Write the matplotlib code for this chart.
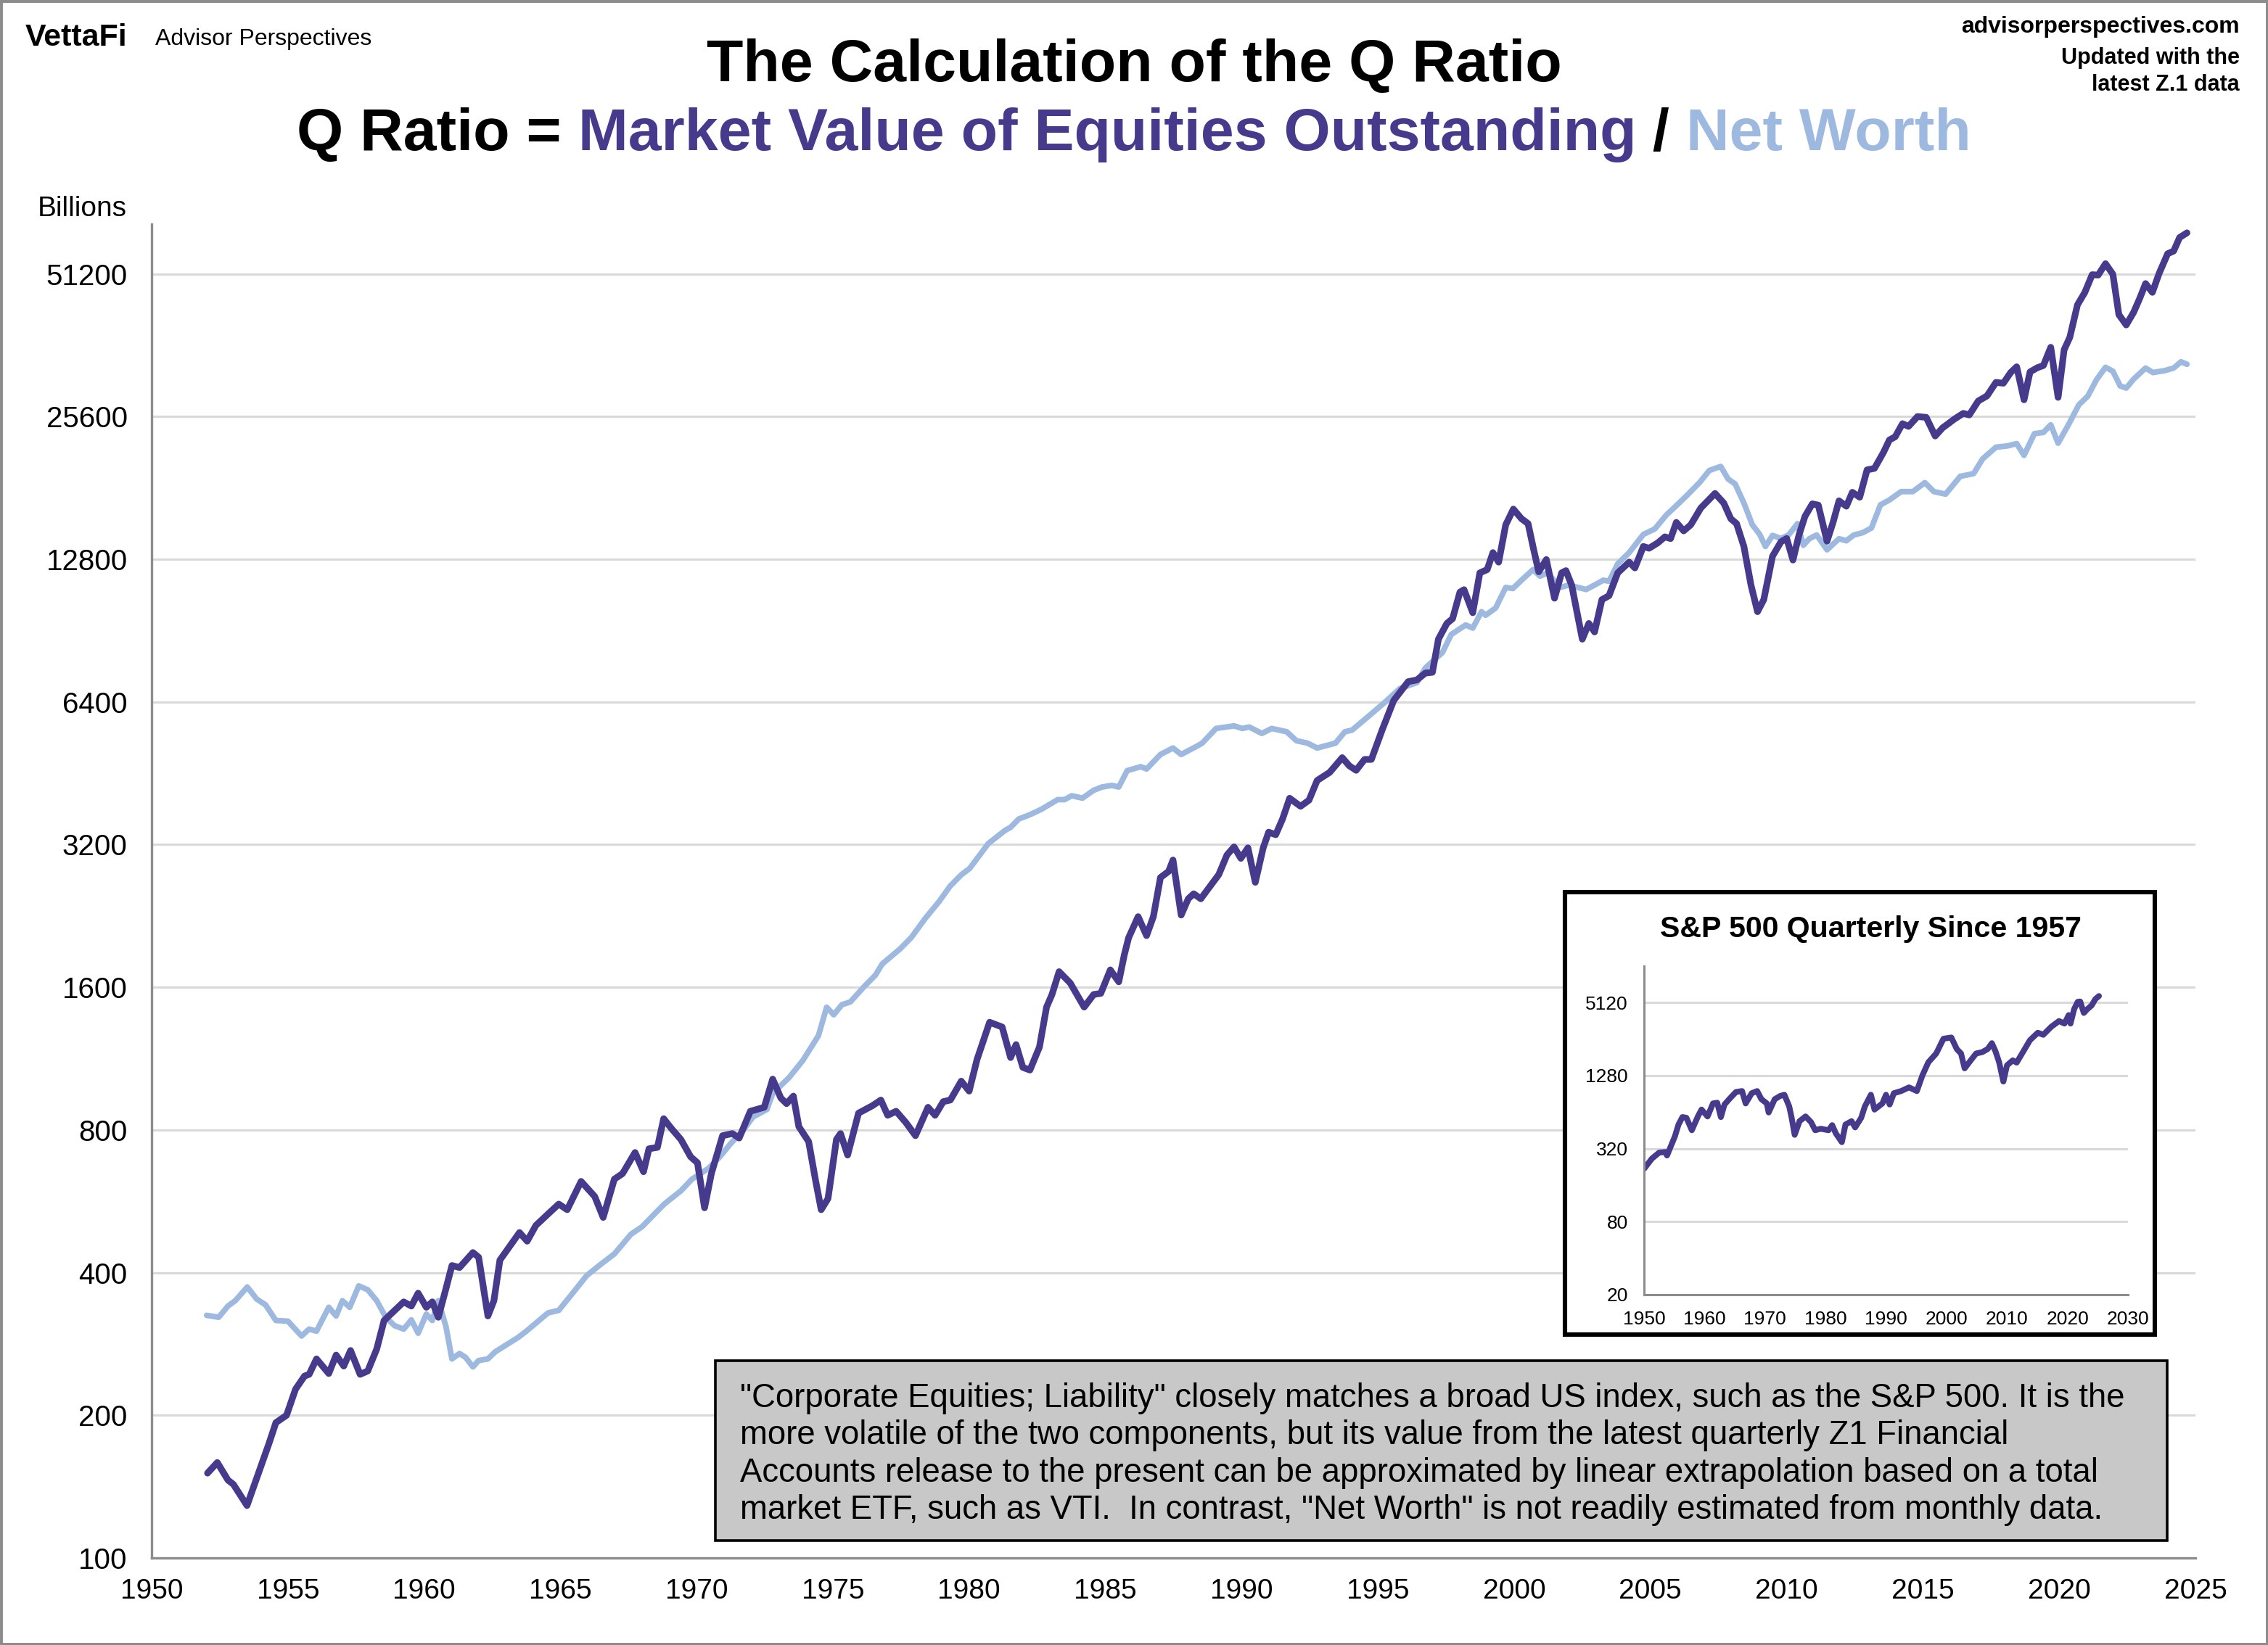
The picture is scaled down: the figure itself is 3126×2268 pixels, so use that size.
import numpy as np
import matplotlib
matplotlib.use("Agg")
import matplotlib.pyplot as plt
from matplotlib.patches import Rectangle
from matplotlib.ticker import NullLocator, FixedLocator

plt.rcParams['font.family'] = ['Liberation Sans', 'DejaVu Sans']

DARK = '#463a8c'
LIGHT = '#9db9e0'
GRID = '#d9d9d9'
SPINE = '#8c8c8c'

# Market value of equities outstanding (billions)
mv_years = [1952.05, 1952.41, 1952.8, 1953.0, 1953.5, 1953.85, 1954.3, 1954.56, 1954.95, 1955.28,
            1955.61, 1955.78, 1956.05, 1956.5, 1956.77, 1957.05, 1957.3, 1957.65, 1957.93, 1958.26,
            1958.53, 1958.92, 1959.25, 1959.53, 1959.78, 1960.08, 1960.3, 1960.52, 1960.8, 1961.02,
            1961.3, 1961.79, 1962.0, 1962.34, 1962.56, 1962.78, 1963.5, 1963.78, 1964.1, 1964.55,
            1964.94, 1965.25, 1965.76, 1966.26, 1966.57, 1966.98, 1967.28, 1967.74, 1968.05, 1968.25,
            1968.56, 1968.79, 1969.07, 1969.42, 1969.78, 1970.03, 1970.29, 1970.54, 1970.95, 1971.31,
            1971.56, 1971.97, 1972.48, 1972.79, 1973.09, 1973.3, 1973.55, 1973.75, 1974.11, 1974.37,
            1974.57, 1974.82, 1975.13, 1975.28, 1975.54, 1975.94, 1976.45, 1976.76, 1977.01, 1977.32,
            1977.68, 1978.03, 1978.49, 1978.75, 1979.05, 1979.31, 1979.71, 1980.0, 1980.29, 1980.75,
            1981.21, 1981.52, 1981.72, 1981.97, 1982.23, 1982.58, 1982.84, 1983.04, 1983.3, 1983.71,
            1984.22, 1984.57, 1984.83, 1985.18, 1985.49, 1985.69, 1985.85, 1986.2, 1986.51, 1986.76,
            1987.02, 1987.32, 1987.48, 1987.78, 1988.04, 1988.24, 1988.5, 1988.85, 1989.16, 1989.46,
            1989.72, 1989.97, 1990.23, 1990.5, 1990.79, 1990.99, 1991.25, 1991.5, 1991.76, 1992.16,
            1992.47, 1992.77, 1993.23, 1993.69, 1993.95, 1994.2, 1994.51, 1994.76, 1995.16, 1995.58,
            1996.11, 1996.43, 1996.74, 1997.0, 1997.22, 1997.53, 1997.74, 1998.01, 1998.16, 1998.48,
            1998.74, 1999.01, 1999.22, 1999.43, 1999.69, 1999.97, 2000.27, 2000.51, 2000.69, 2000.9,
            2001.18, 2001.48, 2001.74, 2001.9, 2002.11, 2002.5, 2002.74, 2002.95, 2003.22, 2003.48,
            2003.8, 2004.22, 2004.43, 2004.74, 2004.95, 2005.27, 2005.53, 2005.74, 2005.95, 2006.22,
            2006.48, 2006.85, 2007.37, 2007.69, 2007.95, 2008.16, 2008.43, 2008.69, 2008.93, 2009.16,
            2009.48, 2009.79, 2010.0, 2010.23, 2010.45, 2010.67, 2010.94, 2011.16, 2011.48, 2011.7,
            2011.92, 2012.19, 2012.41, 2012.68, 2012.95, 2013.22, 2013.55, 2013.77, 2013.98, 2014.25,
            2014.47, 2014.8, 2015.12, 2015.45, 2015.72, 2016.16, 2016.48, 2016.7, 2017.03, 2017.35,
            2017.68, 2017.95, 2018.22, 2018.44, 2018.71, 2018.93, 2019.2, 2019.42, 2019.69, 2019.96,
            2020.18, 2020.39, 2020.67, 2020.94, 2021.21, 2021.43, 2021.7, 2021.97, 2022.19, 2022.46,
            2022.73, 2022.95, 2023.17, 2023.42, 2023.66, 2023.98, 2024.2, 2024.42, 2024.69]
mv_values = [151, 159, 146, 143, 129, 147, 174, 193, 200, 227,
             242, 244, 263, 245, 268, 254, 274, 244, 248, 276,
             317, 333, 347, 340, 362, 338, 347, 322, 370, 414,
             410, 441, 431, 324, 349, 425, 486, 466, 503, 532,
             558, 543, 623, 579, 523, 630, 647, 717, 653, 730,
             735, 845, 806, 764, 702, 682, 548, 647, 778, 786,
             769, 876, 893, 1024, 934, 909, 943, 813, 756, 623,
             543, 573, 764, 786, 708, 868, 900, 925, 859, 876,
             829, 778, 893, 859, 918, 925, 1014, 966, 1127, 1350,
             1319, 1137, 1211, 1084, 1070, 1197, 1453, 1545, 1726, 1633,
             1453, 1545, 1553, 1741, 1643, 1869, 2034, 2255, 2056, 2255,
             2727, 2809, 2969, 2272, 2459, 2520, 2459, 2618, 2766, 3042,
             3165, 2993, 3150, 2664, 3150, 3399, 3357, 3624, 4008, 3854,
             3970, 4370, 4545, 4882, 4692, 4590, 4840, 4840, 5594, 6445,
             7062, 7120, 7362, 7390, 8680, 9370, 9590, 10910, 11040, 9870,
             11980, 12170, 13220, 12620, 15130, 16330, 15580, 15220, 13620, 12040,
             12780, 10590, 11980, 12110, 11290, 8680, 9370, 8990, 10520, 10720,
             11980, 12620, 12270, 13620, 13500, 13860, 14270, 14150, 15310, 14690,
             15130, 16420, 17620, 16820, 15580, 15220, 13620, 11290, 9920, 10520,
             12990, 13930, 14160, 12750, 14390, 15760, 16750, 16650, 13970, 15300,
             17000, 16560, 17720, 17300, 19760, 19900, 21500, 22850, 23200, 24730,
             24400, 25600, 25500, 23290, 24230, 25300, 26000, 25800, 27610, 28300,
             30220, 30100, 31710, 32600, 27770, 31800, 32460, 32800, 35840, 28100,
             35400, 37620, 44040, 46780, 51000, 50900, 53800, 51100, 42000, 39950,
             42460, 45380, 48850, 46800, 51200, 56470, 57200, 61100, 62500]

# Net worth (billions)
nw_years = [1952.02, 1952.46, 1952.8, 1953.07, 1953.51, 1953.85, 1954.18, 1954.56, 1955.0, 1955.5,
            1955.78, 1956.05, 1956.5, 1956.77, 1957.0, 1957.27, 1957.6, 1957.93, 1958.26, 1958.59,
            1958.92, 1959.25, 1959.53, 1959.78, 1960.08, 1960.3, 1960.52, 1960.8, 1961.02, 1961.3,
            1961.52, 1961.79, 1962.0, 1962.34, 1962.6, 1963.45, 1963.72, 1964.55, 1964.94, 1965.45,
            1965.96, 1966.47, 1966.98, 1967.59, 1968.0, 1968.4, 1968.81, 1969.42, 1969.83, 1970.44,
            1970.85, 1971.26, 1971.66, 1972.07, 1972.58, 1972.79, 1973.4, 1973.9, 1974.47, 1974.77,
            1975.03, 1975.33, 1975.64, 1976.15, 1976.56, 1976.81, 1977.47, 1977.88, 1978.39, 1978.9,
            1979.3, 1979.71, 1980.02, 1980.7, 1981.31, 1981.52, 1981.82, 1982.23, 1982.64, 1983.25,
            1983.5, 1983.76, 1984.16, 1984.57, 1984.88, 1985.23, 1985.49, 1985.8, 1986.3, 1986.51,
            1987.02, 1987.48, 1987.78, 1988.34, 1988.55, 1989.06, 1989.72, 1990.02, 1990.28, 1990.74,
            1991.1, 1991.65, 1992.01, 1992.42, 1992.77, 1993.44, 1993.79, 1994.05, 1994.76, 1995.27,
            1995.8, 1996.43, 1996.74, 1997.37, 1997.69, 1998.22, 1998.48, 1998.8, 1998.95, 1999.32,
            1999.69, 1999.95, 2000.27, 2000.69, 2000.95, 2001.22, 2001.69, 2002.0, 2002.64, 2002.95,
            2003.27, 2003.48, 2003.8, 2004.22, 2004.74, 2005.16, 2005.58, 2005.9, 2006.32, 2006.8,
            2007.16, 2007.58, 2007.85, 2008.11, 2008.43, 2008.74, 2009.01, 2009.22, 2009.48, 2009.79,
            2010.07, 2010.4, 2010.61, 2010.83, 2011.1, 2011.48, 2011.92, 2012.19, 2012.46, 2012.79,
            2013.11, 2013.44, 2013.77, 2014.2, 2014.63, 2015.07, 2015.4, 2015.83, 2016.37, 2016.86,
            2017.19, 2017.68, 2018.11, 2018.44, 2018.71, 2019.09, 2019.42, 2019.69, 2019.96, 2020.34,
            2020.72, 2021.05, 2021.37, 2021.7, 2021.97, 2022.24, 2022.46, 2022.73, 2023.17, 2023.44,
            2023.87, 2024.2, 2024.47, 2024.69]
nw_values = [325, 322, 340, 349, 373, 352, 342, 317, 316, 294,
             304, 301, 338, 324, 349, 338, 375, 368, 349, 322,
             309, 304, 318, 298, 327, 317, 349, 308, 263, 270,
             265, 253, 261, 263, 272, 292, 300, 329, 333, 362,
             394, 416, 438, 482, 500, 528, 558, 595, 630, 664,
             702, 750, 792, 852, 884, 955, 1033, 1122, 1265, 1452,
             1400, 1470, 1490, 1606, 1697, 1792, 1929, 2039, 2236, 2428,
             2615, 2763, 2850, 3215, 3426, 3480, 3624, 3700, 3796, 3981,
             3981, 4057, 4010, 4167, 4233, 4266, 4233, 4584, 4672, 4620,
             4958, 5116, 4958, 5155, 5237, 5625, 5697, 5625, 5665, 5491,
             5625, 5537, 5300, 5237, 5116, 5237, 5537, 5580, 6040, 6400,
             6825, 7030, 7545, 8140, 8880, 9300, 9160, 9920, 9750, 10100,
             11160, 11100, 11560, 12170, 11790, 11980, 11160, 11290, 11050, 11290,
             11560, 11500, 12520, 13220, 14440, 14830, 15860, 16500, 17410, 18570,
             19700, 20090, 18900, 18450, 16820, 15130, 14440, 13620, 14370, 14160,
             14400, 15220, 13700, 14140, 14400, 13400, 14140, 14000, 14400, 14560,
             14900, 16670, 17070, 17780, 17780, 18570, 17780, 17560, 19150, 19400,
             20840, 22060, 22200, 22450, 21200, 23560, 23700, 24600, 22500, 24600,
             27100, 28270, 30620, 32520, 31900, 29700, 29400, 30700, 32400, 31700,
             32000, 32400, 33400, 33000]

# S&P 500 inset (as positioned on the inset's x axis)
sp_years = [1950.0, 1951.3, 1952.5, 1953.5, 1953.8, 1955.1, 1955.7, 1956.35, 1957.0, 1957.9,
            1958.9, 1959.5, 1960.5, 1961.4, 1962.1, 1962.7, 1963.3, 1964.3, 1965.2, 1966.2,
            1966.8, 1967.8, 1968.7, 1969.4, 1970.3, 1970.6, 1971.6, 1972.5, 1973.2, 1974.0,
            1974.4, 1974.9, 1975.7, 1976.7, 1977.6, 1978.3, 1979.2, 1980.5, 1981.1, 1981.7,
            1982.7, 1983.3, 1984.3, 1984.9, 1985.9, 1986.5, 1987.5, 1988.1, 1989.4, 1990.0,
            1990.6, 1991.3, 1992.5, 1993.8, 1995.1, 1996.0, 1997.0, 1998.3, 1999.5, 2000.8,
            2001.7, 2002.4, 2003.0, 2004.0, 2004.9, 2005.9, 2006.8, 2007.5, 2008.1, 2008.7,
            2009.4, 2010.0, 2010.95, 2011.6, 2012.5, 2013.8, 2015.1, 2016.0, 2017.3, 2018.6,
            2019.5, 2020.2, 2020.5, 2021.1, 2021.7, 2022.1, 2022.7, 2023.3, 2024.0, 2024.6,
            2025.2]
sp_values = [218, 265, 297, 300, 281, 404, 506, 583, 575, 454,
             590, 672, 590, 755, 765, 583, 740, 842, 938, 955,
             755, 917, 955, 818, 755, 636, 818, 870, 890, 713,
             575, 416, 539, 590, 530, 454, 467, 454, 500, 428,
             362, 506, 539, 479, 575, 713, 890, 672, 755, 890,
             740, 917, 955, 1024, 955, 1280, 1650, 1950, 2580, 2640,
             2120, 1950, 1470, 1710, 1950, 2000, 2120, 2370, 2030, 1650,
             1144, 1557, 1710, 1640, 1950, 2510, 2890, 2780, 3230, 3610,
             3440, 4040, 3440, 4530, 5200, 5230, 4210, 4530, 4860, 5470,
             5800]

main_yticks = [100, 200, 400, 800, 1600, 3200, 6400, 12800, 25600, 51200]
main_xticks = list(range(1950, 2026, 5))
inset_yticks = [20, 80, 320, 1280, 5120]
inset_xticks = list(range(1950, 2031, 10))

title1 = "The Calculation of the Q Ratio"
title2 = [("Q Ratio = ", "black"), ("Market Value of Equities Outstanding", DARK),
          (" / ", "black"), ("Net Worth", LIGHT)]
note_lines = [
    '"Corporate Equities; Liability" closely matches a broad US index, such as the S&P 500. It is the',
    'more volatile of the two components, but its value from the latest quarterly Z1 Financial',
    'Accounts release to the present can be approximated by linear extrapolation based on a total',
    'market ETF, such as VTI.  In contrast, "Net Worth" is not readily estimated from monthly data.',
]

W, H = 3126, 2268
fig = plt.figure(figsize=(W / 200, H / 200), dpi=200)


def fx(px):
    return px / W


def fy(py):
    return 1 - py / H


# main axes
ax = fig.add_axes([fx(209), fy(2148), fx(3026 - 209), (2148 - 309) / H])
ax.plot(nw_years, nw_values, color=LIGHT, lw=2.8, solid_joinstyle='round',
        solid_capstyle='round', zorder=3)
ax.plot(mv_years, mv_values, color=DARK, lw=3.3, solid_joinstyle='round',
        solid_capstyle='round', zorder=4)
ax.set_yscale('log', base=2)
ax.set_ylim(100, 65200)
ax.set_xlim(1950, 2025)
ax.yaxis.set_major_locator(FixedLocator(main_yticks))
ax.yaxis.set_minor_locator(NullLocator())
ax.set_yticklabels([str(v) for v in main_yticks])
ax.set_xticks(main_xticks)
ax.grid(axis='y', color=GRID, lw=1.1)
ax.set_axisbelow(True)
for s in ['top', 'right']:
    ax.spines[s].set_visible(False)
for s in ['left', 'bottom']:
    ax.spines[s].set_color(SPINE)
    ax.spines[s].set_linewidth(1.2)
ax.tick_params(axis='y', length=0, pad=12, labelsize=14.5)
ax.tick_params(axis='x', length=0, pad=10, labelsize=14)

fig.text(fx(113), fy(288), "Billions", fontsize=14, ha='center', va='center')

# titles
TSIZE = 29.7
fig.text(0.5, fy(112), title1, fontsize=TSIZE, fontweight='bold', ha='center', va='baseline')
renderer = fig.canvas.get_renderer()
pieces = []
widths = []
for s, c in title2:
    t = fig.text(0, fy(207), s, color=c, fontsize=TSIZE, fontweight='bold', va='baseline')
    pieces.append(t)
    widths.append(t.get_window_extent(renderer).width)
x0 = (fig.bbox.width - sum(widths)) / 2
for t, w in zip(pieces, widths):
    t.set_x(x0 / fig.bbox.width)
    x0 += w

# header text
fig.text(fx(35), fy(52), "VettaFi", fontsize=15.5, fontweight='bold', va='center')
fig.text(fx(214), fy(54), "Advisor Perspectives", fontsize=11.5, va='center')
fig.text(fx(3087), fy(37), "advisorperspectives.com", fontsize=11.5, fontweight='bold',
         ha='right', va='center')
fig.text(fx(3087), fy(80), "Updated with the", fontsize=11, fontweight='bold', ha='right', va='center')
fig.text(fx(3087), fy(117), "latest Z.1 data", fontsize=11, fontweight='bold', ha='right', va='center')

# inset box
fig.patches.append(Rectangle((fx(2157), fy(1840)), fx(2970 - 2157), (1840 - 1230) / H,
                             transform=fig.transFigure, facecolor='white', edgecolor='black',
                             lw=2.2, zorder=4))
axi = fig.add_axes([fx(2266), fy(1785), fx(2933 - 2266), (1785 - 1332) / H], zorder=5)
axi.patch.set_alpha(0)
axi.plot(sp_years, sp_values, color=DARK, lw=2.9, solid_joinstyle='round', solid_capstyle='round')
axi.set_yscale('log', base=4)
axi.set_ylim(20, 10240)
axi.set_xlim(1950, 2030)
axi.yaxis.set_major_locator(FixedLocator(inset_yticks))
axi.yaxis.set_minor_locator(NullLocator())
axi.set_yticklabels([str(v) for v in inset_yticks])
axi.set_xticks(inset_xticks)
axi.grid(axis='y', color=GRID, lw=1.1)
axi.set_axisbelow(True)
for s in ['top', 'right']:
    axi.spines[s].set_visible(False)
for s in ['left', 'bottom']:
    axi.spines[s].set_color(SPINE)
    axi.spines[s].set_linewidth(1.1)
axi.tick_params(axis='y', length=0, pad=8, labelsize=9.5)
axi.tick_params(axis='x', length=0, pad=8, labelsize=9.5)
fig.text(fx(2578), fy(1281), "S&P 500 Quarterly Since 1957", fontsize=14.8, fontweight='bold',
         ha='center', va='center', zorder=6)

# note box
fig.patches.append(Rectangle((fx(986), fy(2124)), fx(2987 - 986), (2124 - 1876) / H,
                             transform=fig.transFigure, facecolor='#c8c8c8', edgecolor='black',
                             lw=1.3, zorder=4))
for i, line in enumerate(note_lines):
    fig.text(fx(1020), fy(1928 + 51.3 * i), line, fontsize=16.4, va='center', ha='left', zorder=6)

# outer frame
fig.patches.append(Rectangle((0, 0), 1, 1, transform=fig.transFigure, fill=False,
                             edgecolor='#8c8c8c', lw=2.5, zorder=10))

fig.savefig("out.png", dpi=200)
